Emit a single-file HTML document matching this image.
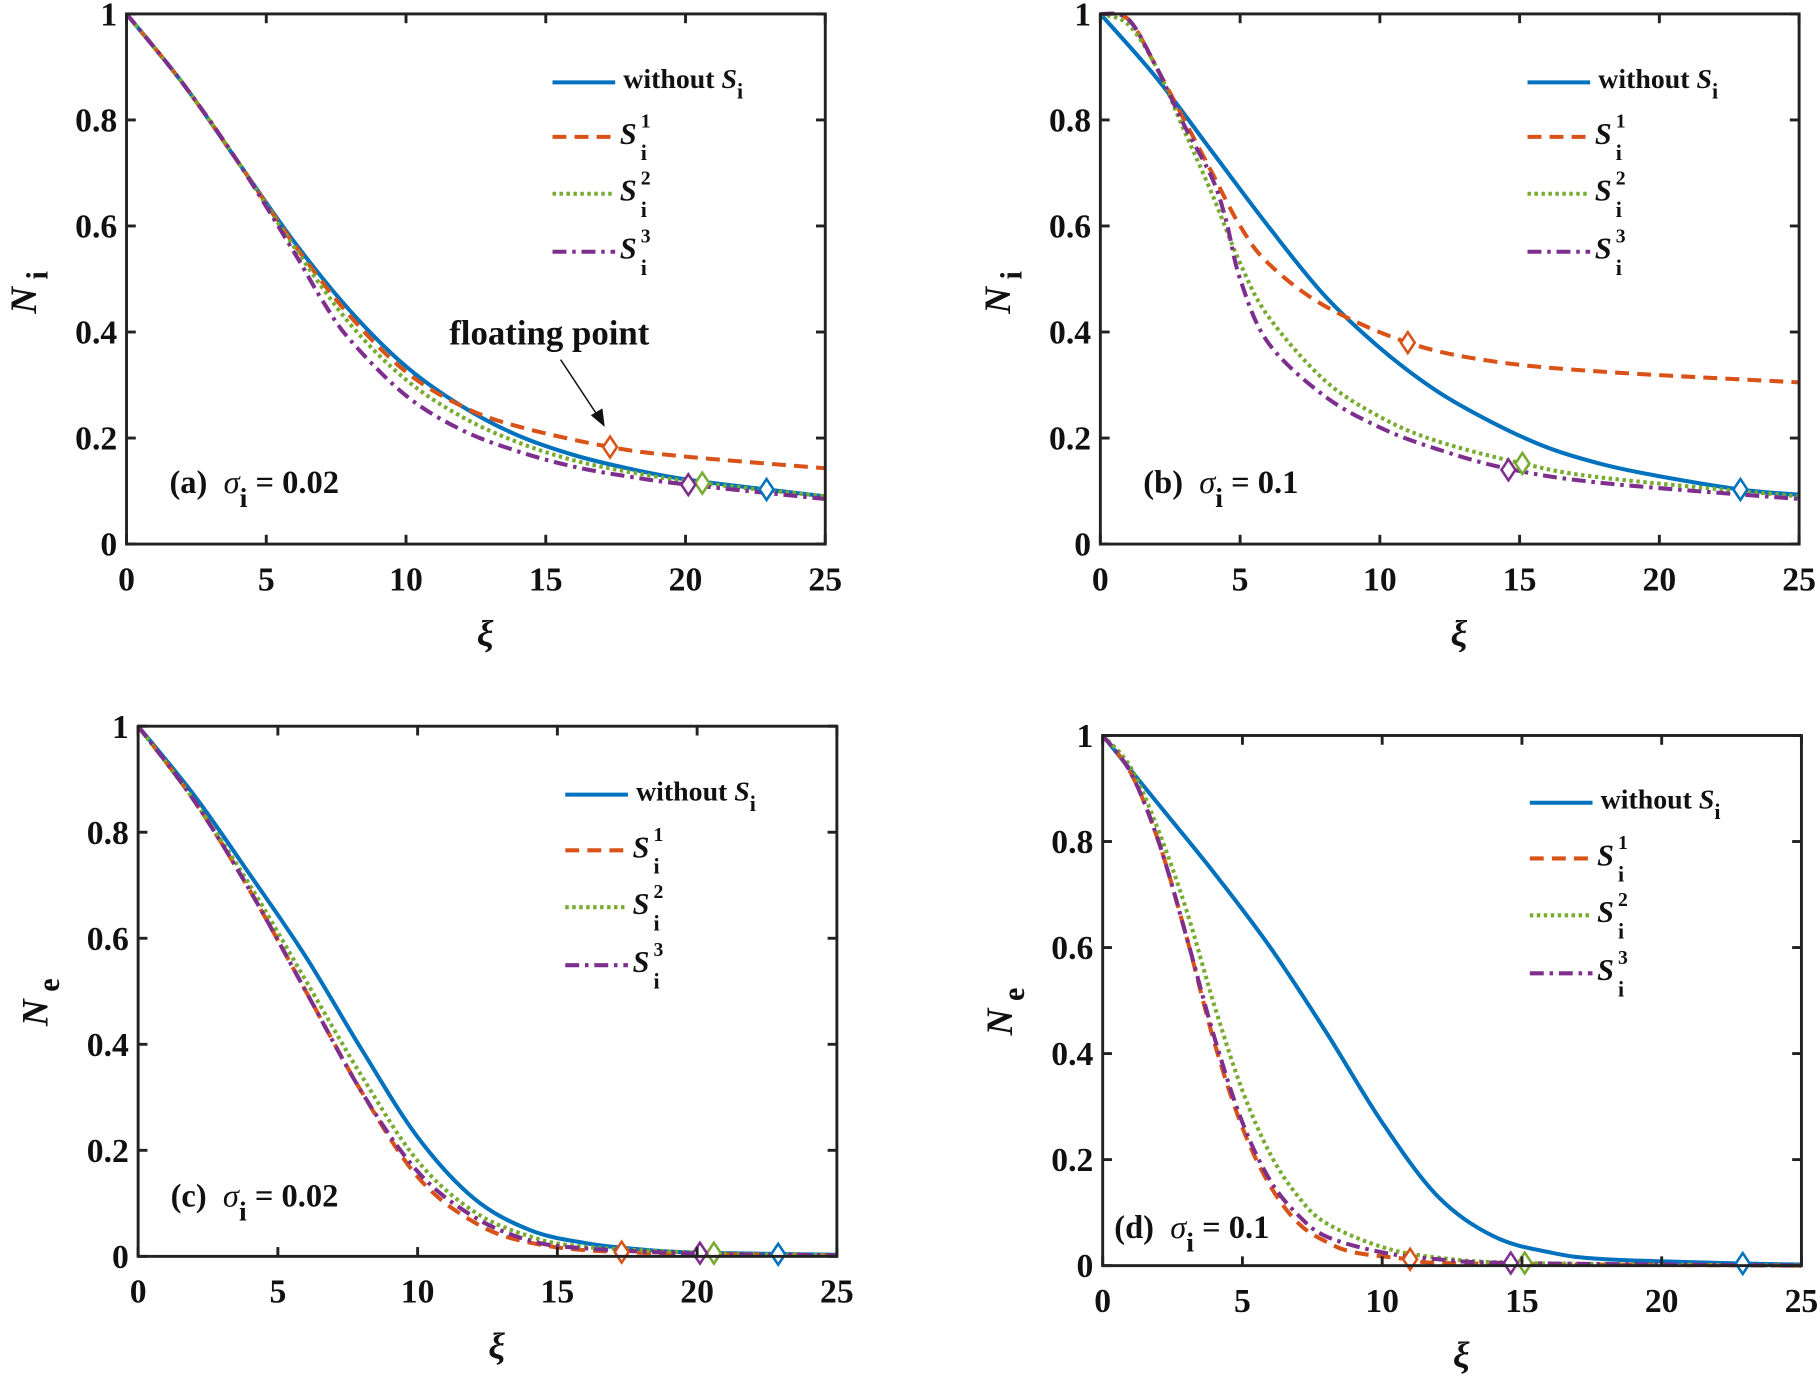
<!DOCTYPE html>
<html><head><meta charset="utf-8">
<style>
html,body{margin:0;padding:0;background:#fff;}
svg{display:block;}
text{font-family:"Liberation Serif",serif;font-weight:bold;fill:#111;}
</style></head>
<body>
<svg id="s" width="1820" height="1377" viewBox="0 0 1568 1187" preserveAspectRatio="none" xmlns="http://www.w3.org/2000/svg"></svg>
<script>
const NS="http://www.w3.org/2000/svg";
const svg=document.getElementById('s');
function el(t,a,txt){const e=document.createElementNS(NS,t);for(const k in a)e.setAttribute(k,a[k]);if(txt!==undefined)e.textContent=txt;svg.appendChild(e);return e;}
const C={b:'#0072BD',o:'#D95319',g:'#77AC30',p:'#7E2F8E'};
const DASH={b:'',o:'12,7',g:'3,3',p:'12,5,3,5'};
function path(P,pts){
  const q=pts.map(p=>[P.x(p[0]),P.y(p[1])]);
  let d='M'+q[0][0]+','+q[0][1];
  for(let i=0;i<q.length-1;i++){
    const p0=q[Math.max(0,i-1)],p1=q[i],p2=q[i+1],p3=q[Math.min(q.length-1,i+2)];
    const c1=[p1[0]+(p2[0]-p0[0])/6,p1[1]+(p2[1]-p0[1])/6];
    const c2=[p2[0]-(p3[0]-p1[0])/6,p2[1]-(p3[1]-p1[1])/6];
    d+=`C${c1[0]},${c1[1]} ${c2[0]},${c2[1]} ${p2[0]},${p2[1]}`;
  }
  return d;
}
function panel(o){
  const L=o.L,R=o.R,T=o.T,B=o.B;
  const P={x:v=>L+(R-L)*v/25,y:v=>B-(B-T)*v};
  for(const k of ['b','o','g','p']){
    el('path',{d:path(P,o.s[k]),fill:'none',stroke:C[k],'stroke-width':3.5,'stroke-dasharray':DASH[k]});
  }
  for(const k of ['o','g','p','b']){
    const m=o.m[k];const x=P.x(m[0]),y=P.y(m[1]);
    el('path',{d:`M${x},${y-9}L${x+6},${y}L${x},${y+9}L${x-6},${y}Z`,fill:'#fff',stroke:C[k],'stroke-width':2.2});
  }
  el('rect',{x:L,y:T,width:R-L,height:B-T,fill:'none',stroke:'#222','stroke-width':2.5});
  for(let i=0;i<=5;i++){const x=P.x(i*5);
    el('line',{x1:x,y1:B,x2:x,y2:B-8,stroke:'#222','stroke-width':2.5});
    el('line',{x1:x,y1:T,x2:x,y2:T+8,stroke:'#222','stroke-width':2.5});
    el('text',{x:x,y:B+40,'font-size':29,'text-anchor':'middle'},String(i*5));}
  for(let i=0;i<=5;i++){const y=P.y(i*0.2);
    el('line',{x1:L,y1:y,x2:L+8,y2:y,stroke:'#222','stroke-width':2.5});
    el('line',{x1:R,y1:y,x2:R-8,y2:y,stroke:'#222','stroke-width':2.5});
    el('text',{x:L-8,y:y+10,'font-size':29,'text-anchor':'end'},i==0?'0':i==5?'1':(i*0.2).toFixed(1));}
  el('text',{x:(L+R)/2+8,y:B+88,'font-size':32,'font-style':'italic','font-weight':'normal','text-anchor':'middle'},'ξ');
  const yl=el('text',{transform:`translate(${L-78},${(T+B)/2+30}) rotate(-90)`,'font-size':32});
  yl.innerHTML=`<tspan font-style="italic">N</tspan><tspan dy="10" font-size="26"> ${o.yl}</tspan>`;
  const lx=o.lx,ly=o.ly;
  ['b','o','g','p'].forEach((k,i)=>{
    const y=ly[i];
    el('line',{x1:lx,y1:y,x2:lx+54,y2:y,stroke:C[k],'stroke-width':3.5,'stroke-dasharray':DASH[k]});
    if(i==0){const t=el('text',{x:lx+61,y:y+5,'font-size':24});
      t.innerHTML='without <tspan font-style="italic">S</tspan><tspan dy="9" font-size="19">i</tspan>';}
    else{el('text',{x:lx+58,y:y+6,'font-size':26,'font-style':'italic'},'S');
      el('text',{x:lx+76,y:y-8,'font-size':17},String(i));
      el('text',{x:lx+76,y:y+20,'font-size':19},'i');}
  });
  const t=el('text',{x:o.tx,y:o.ty,'font-size':28});
  t.innerHTML=`${o.lab}<tspan font-style="italic" font-weight="normal" dx="14">σ</tspan><tspan dy="12" font-size="24">i</tspan><tspan dy="-12"> = ${o.sig}</tspan>`;
}
panel({L:109,R:711,T:12,B:469,yl:'i',lx:476,ly:[71,118,167,217],tx:146,ty:425,lab:'(a)',sig:'0.02',
 s:{b:[[0,1],[2,0.87],[4,0.72],[6,0.57],[8,0.44],[10,0.335],[12,0.26],[14,0.205],[16,0.168],[18,0.142],[20,0.122],[22.9,0.103],[25,0.09]],
    o:[[0,1],[2,0.87],[4,0.72],[6,0.565],[8,0.43],[10,0.325],[12,0.26],[14,0.222],[17.3,0.183],[20,0.165],[25,0.143]],
    g:[[0,1],[2,0.87],[4,0.72],[6,0.56],[8,0.415],[10,0.31],[12,0.24],[14,0.192],[16,0.158],[18,0.136],[20.6,0.115],[25,0.09]],
    p:[[0,1],[2,0.87],[4,0.72],[6,0.55],[7,0.46],[8,0.385],[10,0.28],[12,0.215],[14,0.175],[16,0.146],[18,0.127],[20.1,0.112],[25,0.085]]},
 m:{o:[17.3,0.183],g:[20.6,0.115],p:[20.1,0.112],b:[22.9,0.103]}});
panel({L:948,R:1550,T:12,B:469,yl:'i',lx:1316,ly:[71,118,167,217],tx:985,ty:425,lab:'(b)',sig:'0.1',
 s:{b:[[0,1],[2,0.88],[4,0.74],[6,0.6],[8,0.47],[10,0.37],[12,0.29],[14,0.23],[16,0.182],[18,0.15],[20,0.128],[22.9,0.103],[25,0.093]],
    o:[[0,1],[1,0.99],[2,0.9],[3,0.8],[4,0.7],[5,0.6],[6,0.53],[8,0.45],[11,0.38],[14,0.345],[18,0.325],[25,0.305]],
    g:[[0,1],[1,0.98],[2,0.9],[3,0.78],[4,0.66],[5,0.53],[6,0.43],[8,0.31],[10,0.24],[12,0.195],[15.1,0.152],[18,0.125],[25,0.09]],
    p:[[0,1],[1,0.99],[2,0.9],[3,0.79],[4,0.69],[4.5,0.61],[5,0.5],[6,0.38],[8,0.28],[10,0.22],[12,0.18],[14.6,0.142],[18,0.115],[25,0.085]]},
 m:{o:[11,0.38],g:[15.1,0.152],p:[14.6,0.14],b:[22.9,0.103]}});
panel({L:119,R:721,T:626,B:1083,yl:'e',lx:487,ly:[685,733,782,832],tx:147,ty:1040,lab:'(c)',sig:'0.02',
 s:{b:[[0,1],[2,0.87],[4,0.72],[6,0.565],[8,0.39],[10,0.225],[12,0.11],[14,0.05],[16,0.025],[18,0.013],[20,0.007],[25,0.003]],
    o:[[0,1],[2,0.86],[4,0.69],[6,0.5],[8,0.31],[10,0.15],[12,0.065],[14,0.026],[17.3,0.008],[25,0.002]],
    g:[[0,1],[2,0.86],[4,0.7],[6,0.52],[8,0.34],[10,0.18],[12,0.085],[14,0.038],[16,0.018],[20.6,0.006],[25,0.002]],
    p:[[0,1],[2,0.86],[4,0.69],[6,0.5],[8,0.31],[10,0.16],[12,0.075],[14,0.03],[16,0.015],[20.1,0.005],[25,0.002]]},
 m:{o:[17.3,0.008],g:[20.6,0.006],p:[20.1,0.006],b:[22.9,0.004]}});
panel({L:950,R:1552,T:634,B:1091,yl:'e',lx:1318,ly:[692,740,789,839],tx:960,ty:1067,lab:'(d)',sig:'0.1',
 s:{b:[[0,1],[2,0.87],[4,0.74],[6,0.6],[8,0.44],[10,0.27],[12,0.13],[14,0.055],[16,0.025],[18,0.012],[22.9,0.004],[25,0.002]],
    o:[[0,1],[1,0.93],[2,0.8],[3,0.62],[4,0.42],[5,0.26],[6,0.15],[7,0.08],[8,0.045],[9,0.025],[11,0.012],[13,0.004],[25,0]],
    g:[[0,1],[1,0.94],[2,0.82],[3,0.67],[4,0.49],[5,0.33],[6,0.21],[7,0.13],[8,0.08],[10,0.035],[12,0.015],[15.1,0.005],[25,0]],
    p:[[0,1],[1,0.93],[2,0.8],[3,0.62],[4,0.43],[5,0.27],[6,0.16],[7,0.095],[8,0.055],[10,0.025],[12,0.012],[14.6,0.005],[25,0]]},
 m:{o:[11,0.012],g:[15.1,0.005],p:[14.6,0.005],b:[22.9,0.004]}});
el('text',{x:387,y:297,'font-size':30},'floating point');
el('line',{x1:483,y1:310,x2:516,y2:360,stroke:'#111','stroke-width':1.3});
el('path',{d:'M521,368 L509,358 L519,352 Z',fill:'#111'});
</script>
</body></html>
